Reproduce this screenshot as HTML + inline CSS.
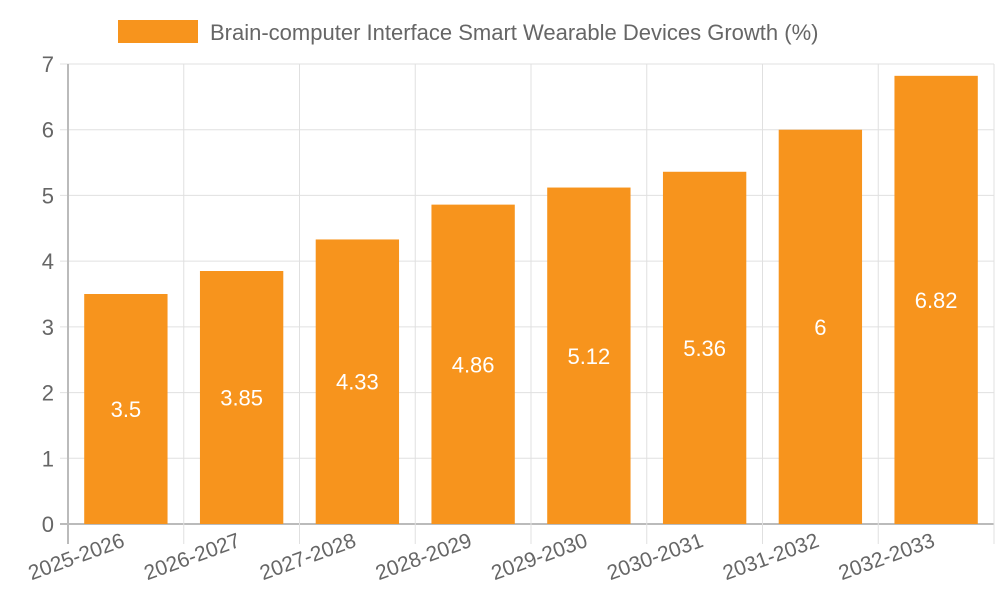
<!DOCTYPE html>
<html><head><meta charset="utf-8"><style>
body{margin:0;background:#fff}
svg{display:block;font-family:"Liberation Sans",sans-serif}
</style></head><body>
<svg id="chart" width="1000" height="600">
<g id="grid"></g>
<g id="bars"></g>
<g id="axes"></g>
<g>
<rect x="118" y="20" width="80" height="23" fill="#f7941d"/>
<text x="210" y="40" font-size="22" fill="#666">Brain-computer Interface Smart Wearable Devices Growth (%)</text>
</g>
</svg>
<script>
const categories=["2025-2026","2026-2027","2027-2028","2028-2029","2029-2030","2030-2031","2031-2032","2032-2033"];
const values=[3.5,3.85,4.33,4.86,5.12,5.36,6,6.82];
const yTicks=[0,1,2,3,4,5,6,7];
const NS="http://www.w3.org/2000/svg";
const L=68,R=994,T=64,B=524,yMax=7;
const bw=(R-L)/categories.length;
const y=v=>B-(v/yMax)*(B-T);
const x=i=>L+bw*i;
function mk(tag,attrs,parent,txt){const e=document.createElementNS(NS,tag);for(const k in attrs)e.setAttribute(k,attrs[k]);if(txt!=null)e.textContent=txt;parent.appendChild(e);return e;}
const grid=document.getElementById('grid'),bars=document.getElementById('bars'),axes=document.getElementById('axes');
yTicks.forEach(t=>{
 const g=mk('line',{x1:L-8,x2:R,y1:y(t),y2:y(t),stroke:t===0?'#bbb':'#e0e0e0','stroke-width':t===0?2:1},grid);
 
 
 const lb=mk('text',{x:L-14,y:y(t)+8,'text-anchor':'end','font-size':22,fill:'#666'},axes,t);
 
 
});
for(let i=0;i<=categories.length;i++){
 const g=mk('line',{x1:x(i),x2:x(i),y1:T,y2:B+20,stroke:i===0?'#bbb':'#e0e0e0','stroke-width':i===0?2:1},grid);
 
 
}
categories.forEach((c,i)=>{
 const cx=x(i)+bw/2,w=bw*0.72;
 const r=mk('rect',{x:cx-w/2,y:y(values[i]),width:w,height:B-y(values[i]),fill:'#f7941d'},bars);
 
 
 const vl=mk('text',{x:cx,y:(y(values[i])+B)/2+8,'text-anchor':'middle','font-size':22,fill:'#fff'},bars,values[i]);
 
 
 const xl=mk('text',{x:cx,y:B+22,'text-anchor':'end','font-size':21,fill:'#666',transform:`rotate(-20 ${cx} ${B+22})`},axes,c);
 
 
});
</script>
</body></html>
